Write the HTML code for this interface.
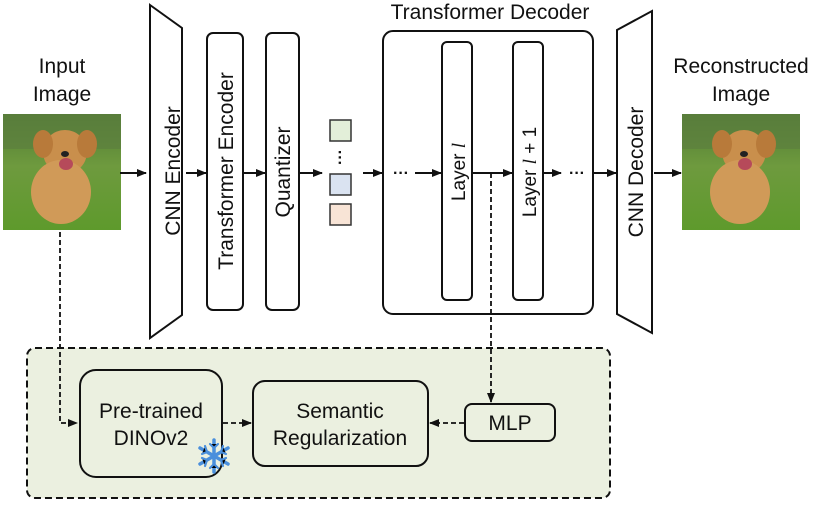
<!DOCTYPE html>
<html><head><style>
body{margin:0;background:#fff;}
svg text{font-family:"Liberation Sans",sans-serif;fill:#111;}
</style></head><body>
<svg width="818" height="505" viewBox="0 0 818 505" xmlns="http://www.w3.org/2000/svg">
<defs>
<marker id="a" markerWidth="10" markerHeight="10" refX="9" refY="4.5" orient="auto" markerUnits="userSpaceOnUse"><path d="M0,0.5 L10,4.5 L0,8.5 Z" fill="#111"/></marker>
<linearGradient id="bg" x1="0" y1="0" x2="0" y2="1"><stop offset="0" stop-color="#4f7a34"/><stop offset="0.45" stop-color="#6e9a3e"/><stop offset="1" stop-color="#5e9a2c"/></linearGradient>
<g id="dog">
<rect width="118" height="116" fill="url(#bg)"/>
<rect y="0" width="118" height="35" fill="#5c7f3e" opacity="0.7"/>
<ellipse cx="62" cy="38" rx="22" ry="22" fill="#c98f4c"/>
<ellipse cx="40" cy="30" rx="10" ry="14" fill="#b87a3a"/>
<ellipse cx="84" cy="30" rx="10" ry="14" fill="#b87a3a"/>
<ellipse cx="58" cy="78" rx="30" ry="32" fill="#d09a58"/>
<ellipse cx="63" cy="50" rx="7" ry="6" fill="#b64a5a"/>
<ellipse cx="62" cy="40" rx="4" ry="3" fill="#222"/>
</g>
</defs>

<text x="62" y="73" font-size="21" text-anchor="middle">Input</text>
<text x="62" y="101" font-size="21" text-anchor="middle">Image</text>
<use href="#dog" x="3" y="114"/>

<text x="741" y="73" font-size="21" text-anchor="middle">Reconstructed</text>
<text x="741" y="101" font-size="21" text-anchor="middle">Image</text>
<use href="#dog" x="682" y="114"/>

<g fill="none" stroke="#111" stroke-width="2">
<polygon points="150,5 182,28 182,315 150,338" fill="#fff"/>
<rect x="207" y="33" width="36" height="277" rx="6" fill="#fff"/>
<rect x="266" y="33" width="33" height="277" rx="6" fill="#fff"/>
<rect x="383" y="31" width="210" height="283" rx="10" fill="#fff"/>
<rect x="442" y="42" width="30" height="258" rx="5" fill="#fff"/>
<rect x="513" y="42" width="30" height="258" rx="5" fill="#fff"/>
<polygon points="617,30 652,11 652,333 617,314" fill="#fff"/>
</g>
<rect x="330" y="120" width="21" height="21" fill="#e3efd9" stroke="#333" stroke-width="1.5"/>
<rect x="330" y="174" width="21" height="21" fill="#dae3f1" stroke="#333" stroke-width="1.5"/>
<rect x="330" y="204" width="21" height="21" fill="#f8e4d6" stroke="#333" stroke-width="1.5"/>
<text x="340" y="157" font-size="16" text-anchor="middle" transform="rotate(-90 340 157)" font-weight="bold" dy="5">···</text>

<text font-size="21" text-anchor="middle" transform="translate(173 171) rotate(-90)" dy="7">CNN Encoder</text>
<text font-size="21" text-anchor="middle" transform="translate(226 171) rotate(-90)" dy="7">Transformer Encoder</text>
<text font-size="21" text-anchor="middle" transform="translate(283 172) rotate(-90)" dy="7">Quantizer</text>
<text font-size="21" text-anchor="middle" transform="translate(636 172) rotate(-90)" dy="7">CNN Decoder</text>
<text font-size="19" text-anchor="middle" transform="translate(458 172) rotate(-90)" dy="7">Layer <tspan font-style="italic" font-family="Liberation Serif">l</tspan></text>
<text font-size="19" text-anchor="middle" transform="translate(529 172) rotate(-90)" dy="7">Layer <tspan font-style="italic" font-family="Liberation Serif">l</tspan> + 1</text>
<text x="490" y="19" font-size="21" text-anchor="middle">Transformer Decoder</text>
<text x="401" y="178" font-size="16" text-anchor="middle" font-weight="bold">···</text>
<text x="577" y="178" font-size="16" text-anchor="middle" font-weight="bold">···</text>

<g stroke="#111" stroke-width="2" marker-end="url(#a)">
<line x1="120" y1="173" x2="146" y2="173"/>
<line x1="186" y1="173" x2="206" y2="173"/>
<line x1="244" y1="173" x2="265" y2="173"/>
<line x1="300" y1="173" x2="322" y2="173"/>
<line x1="363" y1="173" x2="382" y2="173"/>
<line x1="415" y1="173" x2="441" y2="173"/>
<line x1="472" y1="173" x2="512" y2="173"/>
<line x1="543" y1="173" x2="561" y2="173"/>
<line x1="593" y1="173" x2="616" y2="173"/>
<line x1="654" y1="173" x2="681" y2="173"/>
</g>

<rect x="27" y="348" width="583" height="150" rx="8" fill="#ebf0e0" stroke="#111" stroke-width="2" stroke-dasharray="7,4"/>
<rect x="80" y="370" width="142" height="107" rx="16" fill="#ebf0e0" stroke="#111" stroke-width="2"/>
<rect x="253" y="381" width="175" height="85" rx="12" fill="#ebf0e0" stroke="#111" stroke-width="2"/>
<rect x="465" y="404" width="90" height="37" rx="7" fill="#ebf0e0" stroke="#111" stroke-width="2"/>
<text x="151" y="418" font-size="21" text-anchor="middle">Pre-trained</text>
<text x="151" y="445" font-size="21" text-anchor="middle">DINOv2</text>
<text x="340" y="418" font-size="21" text-anchor="middle">Semantic</text>
<text x="340" y="445" font-size="21" text-anchor="middle">Regularization</text>
<text x="510" y="430" font-size="21" text-anchor="middle">MLP</text>

<g stroke="#111" stroke-width="1.8" stroke-dasharray="5,3" fill="none">
<polyline points="60,232 60,423 77,423" marker-end="url(#a)"/>
<line x1="223" y1="423" x2="251" y2="423" marker-end="url(#a)"/>
<line x1="464" y1="423" x2="430" y2="423" marker-end="url(#a)"/>
<line x1="491" y1="173" x2="491" y2="402" marker-end="url(#a)"/>
</g>

<g stroke="#4a8fdc" stroke-width="3.5" stroke-linecap="round" transform="translate(214 456)">
<line x1="0" y1="-16" x2="0" y2="16"/>
<line x1="-14" y1="-8" x2="14" y2="8"/>
<line x1="-14" y1="8" x2="14" y2="-8"/>
<g stroke-width="2.2">
<path d="M-4,-12 L0,-8 L4,-12 M-4,12 L0,8 L4,12"/>
<path d="M-12,-2 L-7,-4 L-9,-10 M12,2 L7,4 L9,10"/>
<path d="M-12,2 L-7,4 L-9,10 M12,-2 L7,-4 L9,-10"/>
</g>
</g>
</svg>
</body></html>
